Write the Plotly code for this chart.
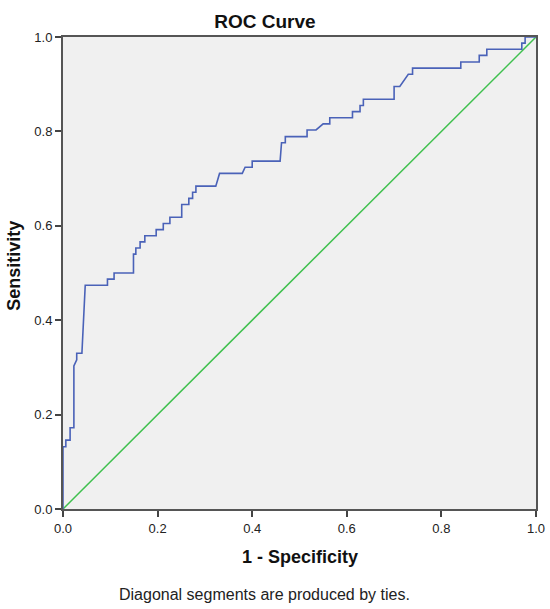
import plotly.graph_objects as go

# ROC-kurvans hörnpunkter
fpr = [0.0, 0.0, 0.006, 0.006, 0.015, 0.015, 0.023, 0.023, 0.029, 0.029,
       0.040, 0.047, 0.094, 0.094, 0.108, 0.108, 0.149, 0.149, 0.154, 0.154,
       0.163, 0.163, 0.173, 0.173, 0.197, 0.197, 0.212, 0.212, 0.226, 0.226,
       0.251, 0.251, 0.266, 0.266, 0.274, 0.274, 0.281, 0.281, 0.323, 0.331,
       0.379, 0.385, 0.400, 0.400, 0.459, 0.462, 0.470, 0.470, 0.516, 0.516,
       0.535, 0.550, 0.564, 0.564, 0.612, 0.612, 0.628, 0.628, 0.635, 0.635,
       0.700, 0.700, 0.712, 0.730, 0.739, 0.739, 0.841, 0.841, 0.880, 0.880,
       0.896, 0.896, 0.970, 0.970, 0.977, 0.977, 1.0]
tpr = [0.0, 0.132, 0.132, 0.146, 0.146, 0.172, 0.172, 0.303, 0.316, 0.330,
       0.330, 0.474, 0.474, 0.487, 0.487, 0.500, 0.500, 0.540, 0.540, 0.553,
       0.553, 0.566, 0.566, 0.579, 0.579, 0.592, 0.592, 0.605, 0.605, 0.618,
       0.618, 0.645, 0.645, 0.658, 0.658, 0.671, 0.671, 0.684, 0.684, 0.711,
       0.711, 0.724, 0.724, 0.737, 0.737, 0.776, 0.776, 0.789, 0.789, 0.803,
       0.803, 0.816, 0.816, 0.829, 0.829, 0.842, 0.842, 0.855, 0.855, 0.868,
       0.868, 0.895, 0.895, 0.921, 0.921, 0.934, 0.934, 0.947, 0.947, 0.961,
       0.961, 0.974, 0.974, 0.987, 0.987, 1.0, 1.0]

# Referenslinjen (slumpen)
ref_x = [0.0, 1.0]
ref_y = [0.0, 1.0]

tick_vals = [0.0, 0.2, 0.4, 0.6, 0.8, 1.0]

FONT = "Liberation Sans, Arial"

fig = go.Figure()

fig.add_trace(go.Scatter(
    x=ref_x, y=ref_y, mode="lines",
    line=dict(color="#3fc04e", width=1.5),
    hoverinfo="skip"
))

fig.add_trace(go.Scatter(
    x=fpr, y=tpr, mode="lines",
    line=dict(color="#4a62b8", width=1.6)
))

axis_style = dict(
    range=[0, 1],
    tickvals=tick_vals,
    tickformat=".1f",
    ticks="outside",
    ticklen=6,
    tickwidth=1.5,
    tickcolor="#444",
    showline=True,
    linecolor="#555",
    linewidth=2,
    mirror=True,
    showgrid=False,
    zeroline=False,
    automargin=False,
    tickfont=dict(family=FONT, size=13, color="#222"),
)

fig.update_xaxes(**axis_style)
fig.update_yaxes(**axis_style)

# Titlar och fotnot som annotationer
fig.add_annotation(text="<b>1 - Specificity</b>", xref="paper", yref="paper",
                   x=0.5, y=-0.102, showarrow=False, yanchor="middle",
                   font=dict(family=FONT, size=18, color="#111"))
fig.add_annotation(text="<b>Sensitivity</b>", xref="paper", yref="paper",
                   x=-0.104, y=0.515, showarrow=False, textangle=-90,
                   xanchor="center", yanchor="middle",
                   font=dict(family=FONT, size=18, color="#111"))
fig.add_annotation(text="Diagonal segments are produced by ties.", xref="paper", yref="paper",
                   x=0.425, y=-0.182, showarrow=False, yanchor="middle",
                   font=dict(family=FONT, size=16, color="#222"))

fig.update_layout(
    title=dict(text="<b>ROC Curve</b>", x=0.427, xref="paper", xanchor="center",
               y=1 - 21 / 609, yref="container", yanchor="middle",
               font=dict(family=FONT, size=19, color="#111")),
    width=550,
    height=609,
    margin=dict(l=63, r=14, t=37, b=100),
    plot_bgcolor="#f0f0f0",
    paper_bgcolor="white",
    showlegend=False,
)

# Ta bort sidans standardmarginal så att figuren fyller fönstret
fig.write_html("out.html", config={"displayModeBar": False},
               post_script="document.body.style.margin = '0px';")
